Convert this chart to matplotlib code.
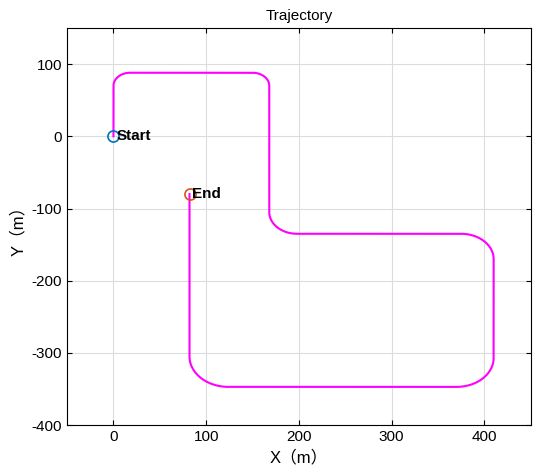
import numpy as np
import matplotlib
matplotlib.use("Agg")
import matplotlib.pyplot as plt

plt.rcParams['font.family'] = ['Liberation Sans', 'Noto Sans CJK SC', 'DejaVu Sans']
plt.rcParams['axes.unicode_minus'] = False

# waypoints of trajectory (corner vertices) and corner radii
way_x = [0, 0, 168, 168, 410, 410, 82, 82]
way_y = [0, 88, 88, -135, -135, -347, -347, -80]
radii = [18, 18, 30, 35, 40, 42]

def build_path(xs, ys, rs):
    P = np.column_stack([xs, ys]).astype(float)
    out = [P[0]]
    for i in range(1, len(P) - 1):
        a, b, c = P[i-1], P[i], P[i+1]
        r = rs[i-1]
        d1 = (a - b) / np.linalg.norm(a - b)
        d2 = (c - b) / np.linalg.norm(c - b)
        p1 = b + d1 * r
        p2 = b + d2 * r
        ctr = b + d1 * r + d2 * r
        a1 = np.arctan2(*(p1 - ctr)[::-1])
        a2 = np.arctan2(*(p2 - ctr)[::-1])
        da = (a2 - a1 + np.pi) % (2*np.pi) - np.pi
        t = np.linspace(a1, a1 + da, 30)
        out.append(p1)
        out.extend(np.column_stack([ctr[0] + r*np.cos(t), ctr[1] + r*np.sin(t)]))
        out.append(p2)
    out.append(P[-1])
    return np.array(out)

path = build_path(way_x, way_y, radii)

fig = plt.figure(figsize=(5.5, 4.74), dpi=100)
ax = fig.add_axes([0.122, 0.103, 0.843, 0.838])
ax.plot(path[:, 0], path[:, 1], color='#ff00ff', lw=1.5)
ax.plot(0, 0, 'o', mfc='none', mec='#0072bd', ms=8, mew=1.2)
ax.plot(way_x[-1], way_y[-1], 'o', mfc='none', mec='#d95319', ms=8, mew=1.2)
ax.text(3, 0, 'Start', fontsize=11, fontweight='bold', va='center', ha='left')
ax.text(85, way_y[-1], 'End', fontsize=11, fontweight='bold', va='center', ha='left')
ax.set_xlim(-50, 450)
ax.set_ylim(-400, 150)
ax.set_xticks([0, 100, 200, 300, 400])
ax.set_yticks([-400, -300, -200, -100, 0, 100])
ax.grid(True, color='#dcdcdc', lw=0.8)
ax.tick_params(direction='in', labelsize=11, top=True, right=True)
ax.set_xlabel('X（m）', fontsize=12)
ax.set_ylabel('Y（m）', fontsize=12)
ax.set_title('Trajectory', fontsize=11)
fig.savefig('out.png')
